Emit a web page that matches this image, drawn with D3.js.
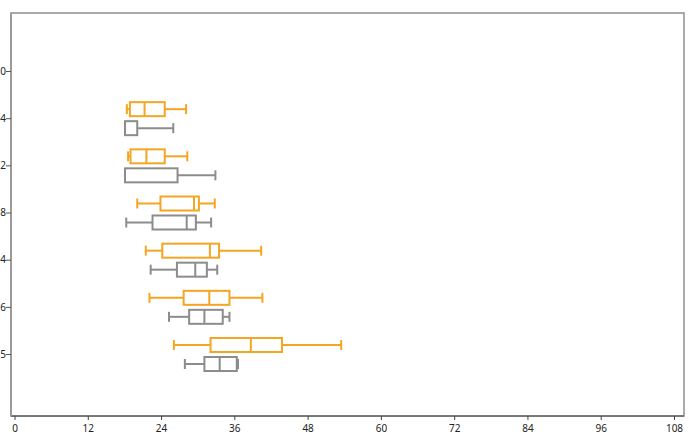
<!DOCTYPE html>
<html>
<head>
<meta charset="utf-8">
<script src="https://cdn.jsdelivr.net/npm/d3@7.9.0/dist/d3.min.js"></script>
<style>
  body { margin: 0; background: #fff; }
  svg { display: block; font-family: "Noto Sans", sans-serif; }
</style>
</head>
<body>
<svg width="689" height="441"></svg>
<script>
// tick labels (only the right edge of the y labels is visible)
const yLabels = ["0", "4", "2", "8", "4", "6", "5"];
const xTicks = [0, 12, 24, 36, 48, 60, 72, 84, 96, 108];
const seriesNames = ["orange", "grey"];
const seriesColors = ["#f4a623", "#8c8c8c"];

// orange series stats per category
const orangeMin = [null, 18.4, 18.6, 20.1, 21.5, 22.1, 26.1];
const orangeQ1  = [null, 18.9, 19.0, 23.9, 24.2, 27.7, 32.1];
const orangeMed = [null, 21.3, 21.6, 29.4, 32.0, 31.9, 38.7];
const orangeQ3  = [null, 24.6, 24.6, 30.2, 33.5, 35.2, 43.8];
const orangeMax = [null, 28.1, 28.3, 32.8, 40.4, 40.6, 53.5];

// grey series stats per category
const greyMin = [null, 18.1, 18.1, 18.3, 22.3, 25.3, 27.9];
const greyQ1  = [null, 18.1, 18.1, 22.6, 26.6, 28.6, 31.1];
const greyMed = [null, 18.1, 18.1, 28.2, 29.6, 31.1, 33.6];
const greyQ3  = [null, 20.1, 26.7, 29.7, 31.5, 34.1, 36.4];
const greyMax = [null, 26.0, 32.9, 32.2, 33.2, 35.2, 36.6];

const svg = d3.select("svg");

const x = d3.scaleLinear().domain([0, 108]).range([14.5, 674]);
const y = d3.scalePoint().domain(d3.range(yLabels.length)).range([71, 354]);
const sub = d3.scalePoint().domain(seriesNames).range([-9, 10]);

// frame
svg.append("rect")
  .attr("x", 11).attr("y", 13).attr("width", 673).attr("height", 403)
  .attr("fill", "none").attr("stroke", "#8f8f8f").attr("stroke-width", 1.5);

// x axis
const xAxis = svg.append("g")
  .attr("transform", "translate(0,416)")
  .call(d3.axisBottom(x).tickValues(xTicks).tickSize(4).tickPadding(5));
xAxis.select(".domain").attr("stroke", "#444").attr("d", "M11,0H684");
xAxis.selectAll(".tick line").attr("stroke", "#444");
xAxis.selectAll("text").attr("font-size", 10).attr("fill", "#222")
  .attr("font-family", "Noto Sans");

// y axis
const yAxis = svg.append("g")
  .attr("transform", "translate(11,0)")
  .call(d3.axisLeft(y).tickFormat(i => yLabels[i]).tickSize(5).tickPadding(0));
yAxis.select(".domain").attr("stroke", "#9a9a9a").attr("stroke-width", 2)
  .attr("d", "M0,13V416");
yAxis.selectAll(".tick line").attr("stroke", "#555");
yAxis.selectAll("text").attr("font-size", 10).attr("fill", "#222")
  .attr("font-family", "Noto Sans");

const series = [
  { name: "orange", min: orangeMin, q1: orangeQ1, med: orangeMed, q3: orangeQ3, max: orangeMax },
  { name: "grey", min: greyMin, q1: greyQ1, med: greyMed, q3: greyQ3, max: greyMax }
];

const boxH = 14, capH = 10;

series.forEach((s, si) => {
  const color = seriesColors[si];
  const g = svg.append("g").attr("stroke", color).attr("stroke-width", 2).attr("fill", "none");
  yLabels.forEach((lab, i) => {
    if (s.min[i] == null) return;
    const cy = y(i) + sub(s.name);
    // whiskers
    g.append("line").attr("x1", x(s.min[i])).attr("x2", x(s.q1[i])).attr("y1", cy).attr("y2", cy);
    g.append("line").attr("x1", x(s.q3[i])).attr("x2", x(s.max[i])).attr("y1", cy).attr("y2", cy);
    // caps
    if (s.min[i] < s.q1[i]) {
      g.append("line").attr("x1", x(s.min[i])).attr("x2", x(s.min[i]))
        .attr("y1", cy - capH / 2).attr("y2", cy + capH / 2);
    }
    g.append("line").attr("x1", x(s.max[i])).attr("x2", x(s.max[i]))
      .attr("y1", cy - capH / 2).attr("y2", cy + capH / 2);
    // box
    g.append("rect")
      .attr("x", x(s.q1[i])).attr("y", cy - boxH / 2)
      .attr("width", x(s.q3[i]) - x(s.q1[i])).attr("height", boxH)
      .attr("fill", "#fff");
    // median
    g.append("line").attr("x1", x(s.med[i])).attr("x2", x(s.med[i]))
      .attr("y1", cy - boxH / 2).attr("y2", cy + boxH / 2);
  });
});
</script>
</body>
</html>
